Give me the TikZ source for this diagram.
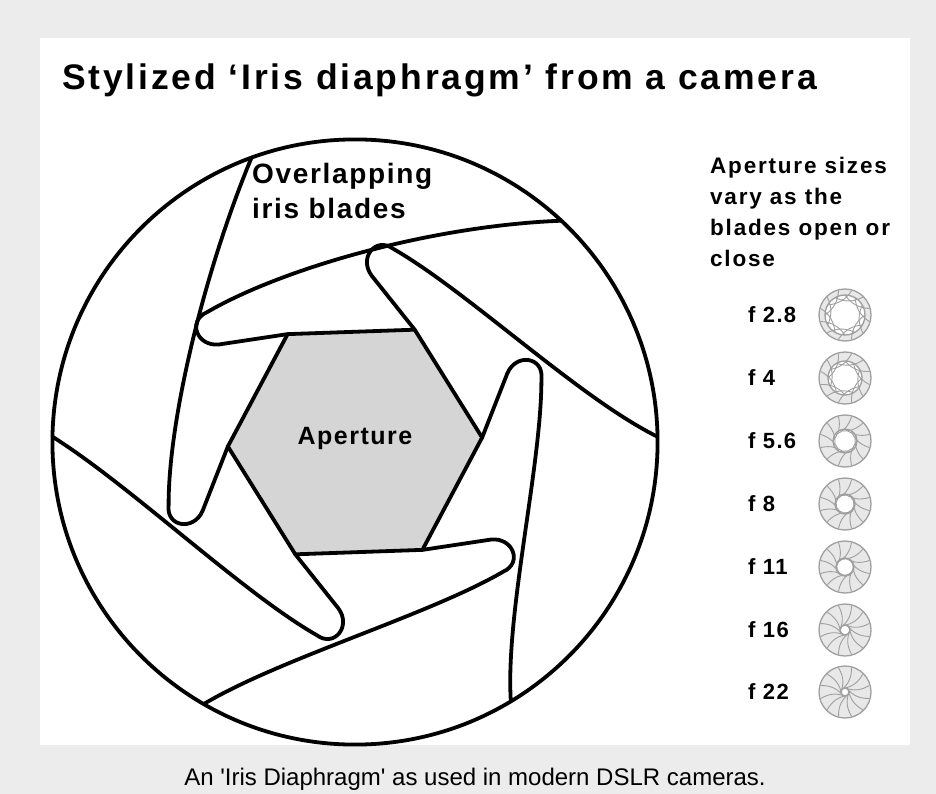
\documentclass[tikz,border=0pt]{standalone}
\usepackage{fontspec}
\setmainfont{Liberation Sans}
\newfontfamily\spaced[LetterSpace=6]{Liberation Sans}
\newfontfamily\wide[LetterSpace=8]{Liberation Sans}
\begin{document}
\begin{tikzpicture}[x=1pt,y=-1pt,
  thick line/.style={line width=3.8pt,line join=round,line cap=round},
  lbl/.style={font=\spaced\bfseries\fontsize{22}{26}\selectfont,anchor=west,inner sep=0pt},
  icon/.style={draw=gray!75,line width=1.3pt}]
\useasboundingbox (0,0) rectangle (936,794);
\fill[gray!15] (0,0) rectangle (936,794);
\fill[white] (40,38) rectangle (910,745);
\node[anchor=west,inner sep=0pt,font=\wide\bfseries\fontsize{35.5}{38}\selectfont] (title) at (62,80) {Stylized ‘Iris diaphragm’ from a camera};
\node[inner sep=0pt,font=\fontsize{24}{28}\selectfont] (cap) at (475,779) {An \textquotesingle Iris Diaphragm\textquotesingle\ as used in modern DSLR cameras.};
% iris
\begin{scope}[shift={(355,442)},yscale=-1.235,xscale=1.235]
  \fill[gray!33] (2:103) \foreach \j in {1,...,5}{ -- ({2+60*\j}:103)} -- cycle;
  \foreach \k/\s in {0/47,1/50,2/59,3/60,4/61,5/61}{
    \begin{scope}[rotate=-60*\k]
      \draw[thick line] (\s:245) .. controls (60,175) and (-60,140) .. (-120,105)
        .. controls (-136,98) and (-128,77) .. (-110,79) -- (122:103) -- (62:103);
    \end{scope}}
  \draw[thick line] (0,0) circle (245);
\end{scope}
\node[inner sep=0pt,font=\spaced\bfseries\fontsize{25}{30}\selectfont] (ap) at (355,438) {Aperture};
\node[anchor=north west,inner sep=0pt,align=left,font=\spaced\bfseries\fontsize{28}{35}\selectfont] (ov) at (252,163) {Overlapping\\iris blades};
\node[anchor=north west,inner sep=0pt,align=left,font=\wide\bfseries\fontsize{22.5}{31}\selectfont] (sz) at (710,157) {Aperture sizes\\vary as the\\blades open or\\close};
% icons
\foreach \y/\t/\r [count=\i] in {315/2.8/20,378/4/17,441/5.6/12,504/8/10,567/11/9,630/16/5,692/22/4}{
  \node[lbl] (f\i) at (748,\y) {f \t};
  \begin{scope}[shift={(845,\y)}]
    \fill[gray!18,even odd rule] (0,0) circle (26) (0,0) circle (\r);
    \foreach \a in {0,30,...,330}{
      \draw[icon,line width=0.9pt] (\a:\r) to[bend right=25] (\a+75:25);}
    \draw[icon] (0,0) circle (26);
    \draw[icon] (0,0) circle (\r);
  \end{scope}}
\end{tikzpicture}
\end{document}
